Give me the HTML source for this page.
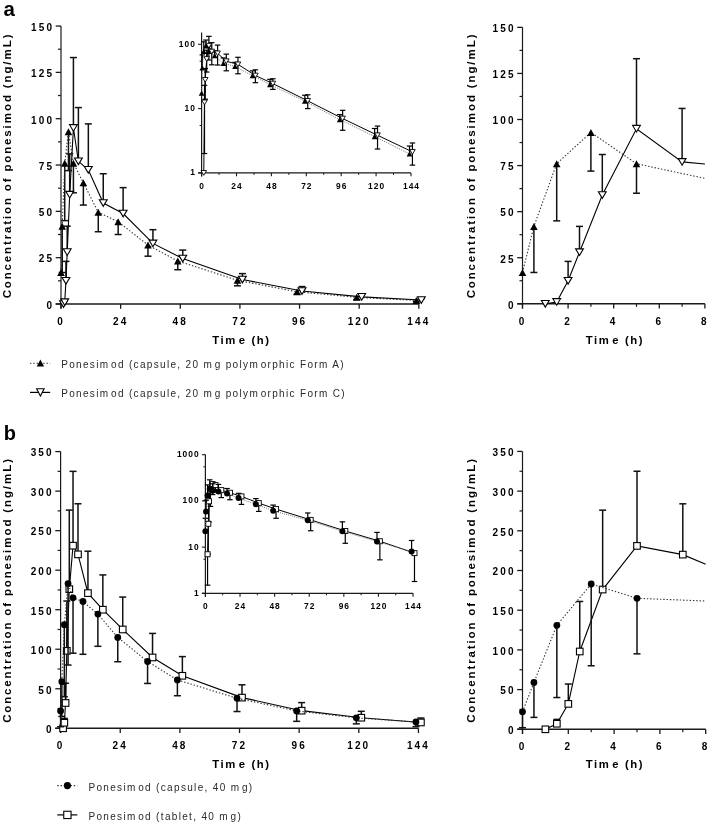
<!DOCTYPE html>
<html><head><meta charset="utf-8"><style>html,body{margin:0;padding:0;background:#fff;}svg{display:block;}</style></head>
<body><svg width="709" height="823" viewBox="0 0 709 823" font-family="'Liberation Sans', Arial, sans-serif">
<rect width="709" height="823" fill="#fff"/>
<text x="3.6" y="15.8" font-size="20.5" text-anchor="start" font-weight="bold" letter-spacing="0" fill="#000" >a</text>
<text x="3.8" y="439.7" font-size="20" text-anchor="start" font-weight="bold" letter-spacing="0" fill="#000" >b</text>
<line x1="61" y1="26.05" x2="61" y2="308.8" stroke="#1a1a1a" stroke-width="1.2" />
<line x1="55.7" y1="304" x2="418.84" y2="304" stroke="#1a1a1a" stroke-width="1.4" />
<line x1="55.7" y1="304" x2="61" y2="304" stroke="#1a1a1a" stroke-width="1.3" />
<text x="54.1" y="308.8" font-size="10" text-anchor="end" font-weight="bold" letter-spacing="2.1" fill="#000" >0</text>
<line x1="55.7" y1="257.68" x2="61" y2="257.68" stroke="#1a1a1a" stroke-width="1.3" />
<text x="54.1" y="262.48" font-size="10" text-anchor="end" font-weight="bold" letter-spacing="2.1" fill="#000" >25</text>
<line x1="55.7" y1="211.35" x2="61" y2="211.35" stroke="#1a1a1a" stroke-width="1.3" />
<text x="54.1" y="216.15" font-size="10" text-anchor="end" font-weight="bold" letter-spacing="2.1" fill="#000" >50</text>
<line x1="55.7" y1="165.03" x2="61" y2="165.03" stroke="#1a1a1a" stroke-width="1.3" />
<text x="54.1" y="169.83" font-size="10" text-anchor="end" font-weight="bold" letter-spacing="2.1" fill="#000" >75</text>
<line x1="55.7" y1="118.7" x2="61" y2="118.7" stroke="#1a1a1a" stroke-width="1.3" />
<text x="54.1" y="123.5" font-size="10" text-anchor="end" font-weight="bold" letter-spacing="2.1" fill="#000" >100</text>
<line x1="55.7" y1="72.38" x2="61" y2="72.38" stroke="#1a1a1a" stroke-width="1.3" />
<text x="54.1" y="77.17" font-size="10" text-anchor="end" font-weight="bold" letter-spacing="2.1" fill="#000" >125</text>
<line x1="55.7" y1="26.05" x2="61" y2="26.05" stroke="#1a1a1a" stroke-width="1.3" />
<text x="54.1" y="30.85" font-size="10" text-anchor="end" font-weight="bold" letter-spacing="2.1" fill="#000" >150</text>
<line x1="58" y1="280.84" x2="61" y2="280.84" stroke="#1a1a1a" stroke-width="1.2" />
<line x1="58" y1="234.51" x2="61" y2="234.51" stroke="#1a1a1a" stroke-width="1.2" />
<line x1="58" y1="188.19" x2="61" y2="188.19" stroke="#1a1a1a" stroke-width="1.2" />
<line x1="58" y1="141.86" x2="61" y2="141.86" stroke="#1a1a1a" stroke-width="1.2" />
<line x1="58" y1="95.54" x2="61" y2="95.54" stroke="#1a1a1a" stroke-width="1.2" />
<line x1="58" y1="49.21" x2="61" y2="49.21" stroke="#1a1a1a" stroke-width="1.2" />
<line x1="61" y1="304" x2="61" y2="308.8" stroke="#1a1a1a" stroke-width="1.3" />
<text x="61" y="325" font-size="10" text-anchor="middle" font-weight="bold" letter-spacing="2.1" fill="#000" >0</text>
<line x1="120.64" y1="304" x2="120.64" y2="308.8" stroke="#1a1a1a" stroke-width="1.3" />
<text x="120.64" y="325" font-size="10" text-anchor="middle" font-weight="bold" letter-spacing="2.1" fill="#000" >24</text>
<line x1="180.28" y1="304" x2="180.28" y2="308.8" stroke="#1a1a1a" stroke-width="1.3" />
<text x="180.28" y="325" font-size="10" text-anchor="middle" font-weight="bold" letter-spacing="2.1" fill="#000" >48</text>
<line x1="239.92" y1="304" x2="239.92" y2="308.8" stroke="#1a1a1a" stroke-width="1.3" />
<text x="239.92" y="325" font-size="10" text-anchor="middle" font-weight="bold" letter-spacing="2.1" fill="#000" >72</text>
<line x1="299.56" y1="304" x2="299.56" y2="308.8" stroke="#1a1a1a" stroke-width="1.3" />
<text x="299.56" y="325" font-size="10" text-anchor="middle" font-weight="bold" letter-spacing="2.1" fill="#000" >96</text>
<line x1="359.2" y1="304" x2="359.2" y2="308.8" stroke="#1a1a1a" stroke-width="1.3" />
<text x="359.2" y="325" font-size="10" text-anchor="middle" font-weight="bold" letter-spacing="2.1" fill="#000" >120</text>
<line x1="418.84" y1="304" x2="418.84" y2="308.8" stroke="#1a1a1a" stroke-width="1.3" />
<text x="418.84" y="325" font-size="10" text-anchor="middle" font-weight="bold" letter-spacing="2.1" fill="#000" >144</text>
<text transform="translate(11.3,165.5) rotate(-90)" x="0" y="0" font-size="11.5" text-anchor="middle" font-weight="bold" letter-spacing="1.86" fill="#000">Concentration of ponesim<tspan dx="0.3">od (ng/m</tspan><tspan dx="0.3">L)</tspan></text>
<text x="241.5" y="344.2" font-size="11.3" text-anchor="middle" font-weight="bold" letter-spacing="1.65" fill="#000" >Tim<tspan dx="1.6">e (h)</tspan></text>
<line x1="62.24" y1="226.17" x2="62.24" y2="272.5" stroke="#111" stroke-width="1.5" />
<line x1="58.74" y1="272.5" x2="65.74" y2="272.5" stroke="#111" stroke-width="1.5" />
<line x1="64.73" y1="163.17" x2="64.73" y2="220.62" stroke="#111" stroke-width="1.5" />
<line x1="61.23" y1="220.62" x2="68.23" y2="220.62" stroke="#111" stroke-width="1.5" />
<line x1="68.45" y1="131.67" x2="68.45" y2="170.58" stroke="#111" stroke-width="1.5" />
<line x1="64.95" y1="170.58" x2="71.95" y2="170.58" stroke="#111" stroke-width="1.5" />
<line x1="73.42" y1="163.17" x2="73.42" y2="192.82" stroke="#111" stroke-width="1.5" />
<line x1="69.92" y1="192.82" x2="76.92" y2="192.82" stroke="#111" stroke-width="1.5" />
<line x1="83.36" y1="182.81" x2="83.36" y2="205.05" stroke="#111" stroke-width="1.5" />
<line x1="79.86" y1="205.05" x2="86.86" y2="205.05" stroke="#111" stroke-width="1.5" />
<line x1="98.28" y1="212.28" x2="98.28" y2="231.73" stroke="#111" stroke-width="1.5" />
<line x1="94.78" y1="231.73" x2="101.78" y2="231.73" stroke="#111" stroke-width="1.5" />
<line x1="118.16" y1="221.73" x2="118.16" y2="234.51" stroke="#111" stroke-width="1.5" />
<line x1="114.66" y1="234.51" x2="121.66" y2="234.51" stroke="#111" stroke-width="1.5" />
<line x1="147.97" y1="245.07" x2="147.97" y2="256.19" stroke="#111" stroke-width="1.5" />
<line x1="144.47" y1="256.19" x2="151.47" y2="256.19" stroke="#111" stroke-width="1.5" />
<line x1="177.79" y1="261.01" x2="177.79" y2="269.72" stroke="#111" stroke-width="1.5" />
<line x1="174.29" y1="269.72" x2="181.29" y2="269.72" stroke="#111" stroke-width="1.5" />
<line x1="237.44" y1="280.28" x2="237.44" y2="285.84" stroke="#111" stroke-width="1.5" />
<line x1="233.94" y1="285.84" x2="240.94" y2="285.84" stroke="#111" stroke-width="1.5" />
<line x1="297.07" y1="291.77" x2="297.07" y2="294.18" stroke="#111" stroke-width="1.5" />
<line x1="293.57" y1="294.18" x2="300.57" y2="294.18" stroke="#111" stroke-width="1.5" />
<line x1="356.71" y1="297.33" x2="356.71" y2="299.55" stroke="#111" stroke-width="1.5" />
<line x1="353.21" y1="299.55" x2="360.21" y2="299.55" stroke="#111" stroke-width="1.5" />
<line x1="416.35" y1="300.42" x2="416.35" y2="301.59" stroke="#111" stroke-width="1.5" />
<line x1="412.85" y1="301.59" x2="419.85" y2="301.59" stroke="#111" stroke-width="1.5" />
<polyline points="61,272.5 62.24,226.17 64.73,163.17 68.45,131.67 73.42,163.17 83.36,182.81 98.28,212.28 118.16,221.73 147.97,245.07 177.79,261.01 237.44,280.28 297.07,291.77 356.71,297.33 416.35,300.42" fill="none" stroke="#333" stroke-width="1.1" stroke-dasharray="1.4,1.9"/>
<polygon points="57.2,276 64.8,276 61,269" fill="#000"/>
<polygon points="58.44,229.67 66.04,229.67 62.24,222.67" fill="#000"/>
<polygon points="60.93,166.67 68.53,166.67 64.73,159.67" fill="#000"/>
<polygon points="64.66,135.17 72.25,135.17 68.45,128.17" fill="#000"/>
<polygon points="69.62,166.67 77.22,166.67 73.42,159.67" fill="#000"/>
<polygon points="79.56,186.31 87.16,186.31 83.36,179.31" fill="#000"/>
<polygon points="94.48,215.78 102.08,215.78 98.28,208.78" fill="#000"/>
<polygon points="114.36,225.23 121.95,225.23 118.16,218.23" fill="#000"/>
<polygon points="144.17,248.57 151.78,248.57 147.97,241.57" fill="#000"/>
<polygon points="173.99,264.51 181.59,264.51 177.79,257.51" fill="#000"/>
<polygon points="233.63,283.78 241.24,283.78 237.44,276.78" fill="#000"/>
<polygon points="293.27,295.27 300.88,295.27 297.07,288.27" fill="#000"/>
<polygon points="352.91,300.83 360.51,300.83 356.71,293.83" fill="#000"/>
<polygon points="412.55,303.92 420.15,303.92 416.35,296.92" fill="#000"/>
<line x1="65.97" y1="280.84" x2="65.97" y2="261.38" stroke="#111" stroke-width="1.5" />
<line x1="62.47" y1="261.38" x2="69.47" y2="261.38" stroke="#111" stroke-width="1.5" />
<line x1="67.21" y1="252.12" x2="67.21" y2="226.17" stroke="#111" stroke-width="1.5" />
<line x1="63.71" y1="226.17" x2="70.71" y2="226.17" stroke="#111" stroke-width="1.5" />
<line x1="69.7" y1="194.67" x2="69.7" y2="153.91" stroke="#111" stroke-width="1.5" />
<line x1="66.2" y1="153.91" x2="73.2" y2="153.91" stroke="#111" stroke-width="1.5" />
<line x1="73.42" y1="127.97" x2="73.42" y2="57.55" stroke="#111" stroke-width="1.5" />
<line x1="69.92" y1="57.55" x2="76.92" y2="57.55" stroke="#111" stroke-width="1.5" />
<line x1="78.39" y1="161.32" x2="78.39" y2="107.58" stroke="#111" stroke-width="1.5" />
<line x1="74.89" y1="107.58" x2="81.89" y2="107.58" stroke="#111" stroke-width="1.5" />
<line x1="88.33" y1="169.84" x2="88.33" y2="123.89" stroke="#111" stroke-width="1.5" />
<line x1="84.83" y1="123.89" x2="91.83" y2="123.89" stroke="#111" stroke-width="1.5" />
<line x1="103.25" y1="203.01" x2="103.25" y2="173.73" stroke="#111" stroke-width="1.5" />
<line x1="99.75" y1="173.73" x2="106.75" y2="173.73" stroke="#111" stroke-width="1.5" />
<line x1="123.12" y1="213.57" x2="123.12" y2="187.63" stroke="#111" stroke-width="1.5" />
<line x1="119.62" y1="187.63" x2="126.62" y2="187.63" stroke="#111" stroke-width="1.5" />
<line x1="152.94" y1="243.41" x2="152.94" y2="229.69" stroke="#111" stroke-width="1.5" />
<line x1="149.44" y1="229.69" x2="156.44" y2="229.69" stroke="#111" stroke-width="1.5" />
<line x1="182.76" y1="258.6" x2="182.76" y2="250.08" stroke="#111" stroke-width="1.5" />
<line x1="179.26" y1="250.08" x2="186.26" y2="250.08" stroke="#111" stroke-width="1.5" />
<line x1="242.41" y1="279.54" x2="242.41" y2="273.61" stroke="#111" stroke-width="1.5" />
<line x1="238.91" y1="273.61" x2="245.91" y2="273.61" stroke="#111" stroke-width="1.5" />
<line x1="302.04" y1="291.03" x2="302.04" y2="286.58" stroke="#111" stroke-width="1.5" />
<line x1="298.54" y1="286.58" x2="305.54" y2="286.58" stroke="#111" stroke-width="1.5" />
<line x1="361.69" y1="296.87" x2="361.69" y2="294.09" stroke="#111" stroke-width="1.5" />
<line x1="358.19" y1="294.09" x2="365.19" y2="294.09" stroke="#111" stroke-width="1.5" />
<line x1="421.32" y1="300.07" x2="421.32" y2="298.59" stroke="#111" stroke-width="1.5" />
<line x1="417.82" y1="298.59" x2="424.82" y2="298.59" stroke="#111" stroke-width="1.5" />
<polyline points="63.48,304 64.73,302.15 65.97,280.84 67.21,252.12 69.7,194.67 73.42,127.97 78.39,161.32 88.33,169.84 103.25,203.01 123.12,213.57 152.94,243.41 182.76,258.6 242.41,279.54 302.04,291.03 361.69,296.87 421.32,300.07" fill="none" stroke="#000" stroke-width="1.1"/>
<polygon points="59.59,300.7 67.39,300.7 63.48,307.3" fill="#fff" stroke="#000" stroke-width="1.1"/>
<polygon points="60.83,298.85 68.63,298.85 64.73,305.45" fill="#fff" stroke="#000" stroke-width="1.1"/>
<polygon points="62.07,277.54 69.87,277.54 65.97,284.14" fill="#fff" stroke="#000" stroke-width="1.1"/>
<polygon points="63.31,248.82 71.11,248.82 67.21,255.42" fill="#fff" stroke="#000" stroke-width="1.1"/>
<polygon points="65.8,191.37 73.6,191.37 69.7,197.97" fill="#fff" stroke="#000" stroke-width="1.1"/>
<polygon points="69.52,124.67 77.33,124.67 73.42,131.27" fill="#fff" stroke="#000" stroke-width="1.1"/>
<polygon points="74.49,158.02 82.3,158.02 78.39,164.62" fill="#fff" stroke="#000" stroke-width="1.1"/>
<polygon points="84.43,166.54 92.23,166.54 88.33,173.14" fill="#fff" stroke="#000" stroke-width="1.1"/>
<polygon points="99.34,199.71 107.15,199.71 103.25,206.31" fill="#fff" stroke="#000" stroke-width="1.1"/>
<polygon points="119.22,210.27 127.03,210.27 123.12,216.87" fill="#fff" stroke="#000" stroke-width="1.1"/>
<polygon points="149.04,240.11 156.84,240.11 152.94,246.71" fill="#fff" stroke="#000" stroke-width="1.1"/>
<polygon points="178.86,255.3 186.66,255.3 182.76,261.9" fill="#fff" stroke="#000" stroke-width="1.1"/>
<polygon points="238.5,276.24 246.31,276.24 242.41,282.84" fill="#fff" stroke="#000" stroke-width="1.1"/>
<polygon points="298.14,287.73 305.94,287.73 302.04,294.33" fill="#fff" stroke="#000" stroke-width="1.1"/>
<polygon points="357.79,293.57 365.58,293.57 361.69,300.17" fill="#fff" stroke="#000" stroke-width="1.1"/>
<polygon points="417.43,296.77 425.22,296.77 421.32,303.37" fill="#fff" stroke="#000" stroke-width="1.1"/>
<line x1="522.5" y1="27.35" x2="522.5" y2="308.6" stroke="#1a1a1a" stroke-width="1.2" />
<line x1="517.2" y1="303.8" x2="704.9" y2="303.8" stroke="#1a1a1a" stroke-width="1.4" />
<line x1="517.2" y1="303.8" x2="522.5" y2="303.8" stroke="#1a1a1a" stroke-width="1.3" />
<text x="515.6" y="308.6" font-size="10" text-anchor="end" font-weight="bold" letter-spacing="2.1" fill="#000" >0</text>
<line x1="517.2" y1="257.73" x2="522.5" y2="257.73" stroke="#1a1a1a" stroke-width="1.3" />
<text x="515.6" y="262.53" font-size="10" text-anchor="end" font-weight="bold" letter-spacing="2.1" fill="#000" >25</text>
<line x1="517.2" y1="211.65" x2="522.5" y2="211.65" stroke="#1a1a1a" stroke-width="1.3" />
<text x="515.6" y="216.45" font-size="10" text-anchor="end" font-weight="bold" letter-spacing="2.1" fill="#000" >50</text>
<line x1="517.2" y1="165.58" x2="522.5" y2="165.58" stroke="#1a1a1a" stroke-width="1.3" />
<text x="515.6" y="170.38" font-size="10" text-anchor="end" font-weight="bold" letter-spacing="2.1" fill="#000" >75</text>
<line x1="517.2" y1="119.5" x2="522.5" y2="119.5" stroke="#1a1a1a" stroke-width="1.3" />
<text x="515.6" y="124.3" font-size="10" text-anchor="end" font-weight="bold" letter-spacing="2.1" fill="#000" >100</text>
<line x1="517.2" y1="73.43" x2="522.5" y2="73.43" stroke="#1a1a1a" stroke-width="1.3" />
<text x="515.6" y="78.23" font-size="10" text-anchor="end" font-weight="bold" letter-spacing="2.1" fill="#000" >125</text>
<line x1="517.2" y1="27.35" x2="522.5" y2="27.35" stroke="#1a1a1a" stroke-width="1.3" />
<text x="515.6" y="32.15" font-size="10" text-anchor="end" font-weight="bold" letter-spacing="2.1" fill="#000" >150</text>
<line x1="519.5" y1="280.76" x2="522.5" y2="280.76" stroke="#1a1a1a" stroke-width="1.2" />
<line x1="519.5" y1="234.69" x2="522.5" y2="234.69" stroke="#1a1a1a" stroke-width="1.2" />
<line x1="519.5" y1="188.61" x2="522.5" y2="188.61" stroke="#1a1a1a" stroke-width="1.2" />
<line x1="519.5" y1="142.54" x2="522.5" y2="142.54" stroke="#1a1a1a" stroke-width="1.2" />
<line x1="519.5" y1="96.46" x2="522.5" y2="96.46" stroke="#1a1a1a" stroke-width="1.2" />
<line x1="519.5" y1="50.39" x2="522.5" y2="50.39" stroke="#1a1a1a" stroke-width="1.2" />
<line x1="522.5" y1="303.8" x2="522.5" y2="308.6" stroke="#1a1a1a" stroke-width="1.3" />
<text x="522.5" y="324.8" font-size="10" text-anchor="middle" font-weight="bold" letter-spacing="2.1" fill="#000" >0</text>
<line x1="568.1" y1="303.8" x2="568.1" y2="308.6" stroke="#1a1a1a" stroke-width="1.3" />
<text x="568.1" y="324.8" font-size="10" text-anchor="middle" font-weight="bold" letter-spacing="2.1" fill="#000" >2</text>
<line x1="613.7" y1="303.8" x2="613.7" y2="308.6" stroke="#1a1a1a" stroke-width="1.3" />
<text x="613.7" y="324.8" font-size="10" text-anchor="middle" font-weight="bold" letter-spacing="2.1" fill="#000" >4</text>
<line x1="659.3" y1="303.8" x2="659.3" y2="308.6" stroke="#1a1a1a" stroke-width="1.3" />
<text x="659.3" y="324.8" font-size="10" text-anchor="middle" font-weight="bold" letter-spacing="2.1" fill="#000" >6</text>
<line x1="704.9" y1="303.8" x2="704.9" y2="308.6" stroke="#1a1a1a" stroke-width="1.3" />
<text x="704.9" y="324.8" font-size="10" text-anchor="middle" font-weight="bold" letter-spacing="2.1" fill="#000" >8</text>
<line x1="545.3" y1="303.8" x2="545.3" y2="306.8" stroke="#1a1a1a" stroke-width="1.2" />
<line x1="590.9" y1="303.8" x2="590.9" y2="306.8" stroke="#1a1a1a" stroke-width="1.2" />
<line x1="636.5" y1="303.8" x2="636.5" y2="306.8" stroke="#1a1a1a" stroke-width="1.2" />
<line x1="682.1" y1="303.8" x2="682.1" y2="306.8" stroke="#1a1a1a" stroke-width="1.2" />
<text transform="translate(475.3,165.5) rotate(-90)" x="0" y="0" font-size="11.5" text-anchor="middle" font-weight="bold" letter-spacing="1.86" fill="#000">Concentration of ponesim<tspan dx="0.3">od (ng/m</tspan><tspan dx="0.3">L)</tspan></text>
<text x="615" y="344.2" font-size="11.3" text-anchor="middle" font-weight="bold" letter-spacing="1.65" fill="#000" >Tim<tspan dx="1.6">e (h)</tspan></text>
<line x1="533.9" y1="226.39" x2="533.9" y2="272.47" stroke="#111" stroke-width="1.5" />
<line x1="530.4" y1="272.47" x2="537.4" y2="272.47" stroke="#111" stroke-width="1.5" />
<line x1="556.7" y1="163.73" x2="556.7" y2="220.87" stroke="#111" stroke-width="1.5" />
<line x1="553.2" y1="220.87" x2="560.2" y2="220.87" stroke="#111" stroke-width="1.5" />
<line x1="590.9" y1="132.4" x2="590.9" y2="171.1" stroke="#111" stroke-width="1.5" />
<line x1="587.4" y1="171.1" x2="594.4" y2="171.1" stroke="#111" stroke-width="1.5" />
<line x1="636.5" y1="163.73" x2="636.5" y2="193.22" stroke="#111" stroke-width="1.5" />
<line x1="633" y1="193.22" x2="640" y2="193.22" stroke="#111" stroke-width="1.5" />
<polyline points="522.5,272.47 533.9,226.39 556.7,163.73 590.9,132.4 636.5,163.73 704.9,178.38" fill="none" stroke="#333" stroke-width="1.1" stroke-dasharray="1.4,1.9"/>
<polygon points="518.7,275.97 526.3,275.97 522.5,268.97" fill="#000"/>
<polygon points="530.1,229.89 537.7,229.89 533.9,222.89" fill="#000"/>
<polygon points="552.9,167.23 560.5,167.23 556.7,160.23" fill="#000"/>
<polygon points="587.1,135.9 594.7,135.9 590.9,128.9" fill="#000"/>
<polygon points="632.7,167.23 640.3,167.23 636.5,160.23" fill="#000"/>
<line x1="568.1" y1="280.76" x2="568.1" y2="261.41" stroke="#111" stroke-width="1.5" />
<line x1="564.6" y1="261.41" x2="571.6" y2="261.41" stroke="#111" stroke-width="1.5" />
<line x1="579.5" y1="252.2" x2="579.5" y2="226.39" stroke="#111" stroke-width="1.5" />
<line x1="576" y1="226.39" x2="583" y2="226.39" stroke="#111" stroke-width="1.5" />
<line x1="602.3" y1="195.06" x2="602.3" y2="154.52" stroke="#111" stroke-width="1.5" />
<line x1="598.8" y1="154.52" x2="605.8" y2="154.52" stroke="#111" stroke-width="1.5" />
<line x1="636.5" y1="128.72" x2="636.5" y2="58.68" stroke="#111" stroke-width="1.5" />
<line x1="633" y1="58.68" x2="640" y2="58.68" stroke="#111" stroke-width="1.5" />
<line x1="682.1" y1="161.89" x2="682.1" y2="108.44" stroke="#111" stroke-width="1.5" />
<line x1="678.6" y1="108.44" x2="685.6" y2="108.44" stroke="#111" stroke-width="1.5" />
<polyline points="545.3,303.8 556.7,301.96 568.1,280.76 579.5,252.2 602.3,195.06 636.5,128.72 682.1,161.89 704.9,164.01" fill="none" stroke="#000" stroke-width="1.1"/>
<polygon points="541.4,300.5 549.2,300.5 545.3,307.1" fill="#fff" stroke="#000" stroke-width="1.1"/>
<polygon points="552.8,298.66 560.6,298.66 556.7,305.26" fill="#fff" stroke="#000" stroke-width="1.1"/>
<polygon points="564.2,277.46 572,277.46 568.1,284.06" fill="#fff" stroke="#000" stroke-width="1.1"/>
<polygon points="575.6,248.9 583.4,248.9 579.5,255.5" fill="#fff" stroke="#000" stroke-width="1.1"/>
<polygon points="598.4,191.76 606.2,191.76 602.3,198.36" fill="#fff" stroke="#000" stroke-width="1.1"/>
<polygon points="632.6,125.42 640.4,125.42 636.5,132.02" fill="#fff" stroke="#000" stroke-width="1.1"/>
<polygon points="678.2,158.59 686,158.59 682.1,165.19" fill="#fff" stroke="#000" stroke-width="1.1"/>
<line x1="201.6" y1="32.5" x2="201.6" y2="176.4" stroke="#1a1a1a" stroke-width="1.2" />
<line x1="198.1" y1="172.9" x2="410.98" y2="172.9" stroke="#1a1a1a" stroke-width="1.2" />
<line x1="198.1" y1="172.9" x2="201.6" y2="172.9" stroke="#1a1a1a" stroke-width="1.1" />
<text x="195.8" y="175.3" font-size="8.4" text-anchor="end" font-weight="bold" letter-spacing="1.0" fill="#000" >1</text>
<line x1="198.1" y1="108.6" x2="201.6" y2="108.6" stroke="#1a1a1a" stroke-width="1.1" />
<text x="195.8" y="111" font-size="8.4" text-anchor="end" font-weight="bold" letter-spacing="1.0" fill="#000" >10</text>
<line x1="198.1" y1="44.3" x2="201.6" y2="44.3" stroke="#1a1a1a" stroke-width="1.1" />
<text x="195.8" y="46.7" font-size="8.4" text-anchor="end" font-weight="bold" letter-spacing="1.0" fill="#000" >100</text>
<line x1="199.6" y1="125.5" x2="201.6" y2="125.5" stroke="#1a1a1a" stroke-width="1.0" />
<line x1="199.6" y1="61.2" x2="201.6" y2="61.2" stroke="#1a1a1a" stroke-width="1.0" />
<line x1="201.6" y1="172.9" x2="201.6" y2="176.3" stroke="#1a1a1a" stroke-width="1.1" />
<text x="202.1" y="188.7" font-size="8.4" text-anchor="middle" font-weight="bold" letter-spacing="1.0" fill="#000" >0</text>
<line x1="236.5" y1="172.9" x2="236.5" y2="176.3" stroke="#1a1a1a" stroke-width="1.1" />
<text x="237" y="188.7" font-size="8.4" text-anchor="middle" font-weight="bold" letter-spacing="1.0" fill="#000" >24</text>
<line x1="271.39" y1="172.9" x2="271.39" y2="176.3" stroke="#1a1a1a" stroke-width="1.1" />
<text x="271.89" y="188.7" font-size="8.4" text-anchor="middle" font-weight="bold" letter-spacing="1.0" fill="#000" >48</text>
<line x1="306.29" y1="172.9" x2="306.29" y2="176.3" stroke="#1a1a1a" stroke-width="1.1" />
<text x="306.79" y="188.7" font-size="8.4" text-anchor="middle" font-weight="bold" letter-spacing="1.0" fill="#000" >72</text>
<line x1="341.18" y1="172.9" x2="341.18" y2="176.3" stroke="#1a1a1a" stroke-width="1.1" />
<text x="341.68" y="188.7" font-size="8.4" text-anchor="middle" font-weight="bold" letter-spacing="1.0" fill="#000" >96</text>
<line x1="376.08" y1="172.9" x2="376.08" y2="176.3" stroke="#1a1a1a" stroke-width="1.1" />
<text x="376.58" y="188.7" font-size="8.4" text-anchor="middle" font-weight="bold" letter-spacing="1.0" fill="#000" >120</text>
<line x1="410.98" y1="172.9" x2="410.98" y2="176.3" stroke="#1a1a1a" stroke-width="1.1" />
<text x="411.48" y="188.7" font-size="8.4" text-anchor="middle" font-weight="bold" letter-spacing="1.0" fill="#000" >144</text>
<line x1="219.05" y1="172.9" x2="219.05" y2="174.9" stroke="#1a1a1a" stroke-width="1.0" />
<line x1="253.94" y1="172.9" x2="253.94" y2="174.9" stroke="#1a1a1a" stroke-width="1.0" />
<line x1="288.84" y1="172.9" x2="288.84" y2="174.9" stroke="#1a1a1a" stroke-width="1.0" />
<line x1="323.74" y1="172.9" x2="323.74" y2="174.9" stroke="#1a1a1a" stroke-width="1.0" />
<line x1="358.63" y1="172.9" x2="358.63" y2="174.9" stroke="#1a1a1a" stroke-width="1.0" />
<line x1="393.53" y1="172.9" x2="393.53" y2="174.9" stroke="#1a1a1a" stroke-width="1.0" />
<line x1="202.33" y1="67.93" x2="202.33" y2="54.88" stroke="#000" stroke-width="1.2" />
<line x1="199.58" y1="54.88" x2="205.08" y2="54.88" stroke="#000" stroke-width="1.2" />
<line x1="203.78" y1="51.36" x2="203.78" y2="41.81" stroke="#000" stroke-width="1.2" />
<line x1="201.03" y1="41.81" x2="206.53" y2="41.81" stroke="#000" stroke-width="1.2" />
<line x1="205.96" y1="45.73" x2="205.96" y2="40.04" stroke="#000" stroke-width="1.2" />
<line x1="203.21" y1="40.04" x2="208.71" y2="40.04" stroke="#000" stroke-width="1.2" />
<line x1="208.87" y1="51.36" x2="208.87" y2="46.03" stroke="#000" stroke-width="1.2" />
<line x1="206.12" y1="46.03" x2="211.62" y2="46.03" stroke="#000" stroke-width="1.2" />
<line x1="214.69" y1="55.56" x2="214.69" y2="50.85" stroke="#000" stroke-width="1.2" />
<line x1="211.94" y1="50.85" x2="217.44" y2="50.85" stroke="#000" stroke-width="1.2" />
<line x1="223.41" y1="63.34" x2="223.41" y2="57.96" stroke="#000" stroke-width="1.2" />
<line x1="220.66" y1="57.96" x2="226.16" y2="57.96" stroke="#000" stroke-width="1.2" />
<line x1="235.04" y1="66.37" x2="235.04" y2="62.34" stroke="#000" stroke-width="1.2" />
<line x1="232.29" y1="62.34" x2="237.79" y2="62.34" stroke="#000" stroke-width="1.2" />
<line x1="252.49" y1="75.69" x2="252.49" y2="70.87" stroke="#000" stroke-width="1.2" />
<line x1="249.74" y1="70.87" x2="255.24" y2="70.87" stroke="#000" stroke-width="1.2" />
<line x1="269.94" y1="84.5" x2="269.94" y2="79.35" stroke="#000" stroke-width="1.2" />
<line x1="267.19" y1="79.35" x2="272.69" y2="79.35" stroke="#000" stroke-width="1.2" />
<line x1="304.83" y1="101.11" x2="304.83" y2="95.23" stroke="#000" stroke-width="1.2" />
<line x1="302.08" y1="95.23" x2="307.58" y2="95.23" stroke="#000" stroke-width="1.2" />
<line x1="339.73" y1="119.6" x2="339.73" y2="114.58" stroke="#000" stroke-width="1.2" />
<line x1="336.98" y1="114.58" x2="342.48" y2="114.58" stroke="#000" stroke-width="1.2" />
<line x1="374.63" y1="136.53" x2="374.63" y2="128.5" stroke="#000" stroke-width="1.2" />
<line x1="371.88" y1="128.5" x2="377.38" y2="128.5" stroke="#000" stroke-width="1.2" />
<line x1="409.52" y1="153.94" x2="409.52" y2="146.05" stroke="#000" stroke-width="1.2" />
<line x1="406.77" y1="146.05" x2="412.27" y2="146.05" stroke="#000" stroke-width="1.2" />
<polyline points="201.6,93.18 202.33,67.93 203.78,51.36 205.96,45.73 208.87,51.36 214.69,55.56 223.41,63.34 235.04,66.37 252.49,75.69 269.94,84.5 304.83,101.11 339.73,119.6 374.63,136.53 409.52,153.94" fill="none" stroke="#666" stroke-width="0.9" stroke-dasharray="1,1.1"/>
<polygon points="198.71,95.84 204.49,95.84 201.6,90.52" fill="#000"/>
<polygon points="199.44,70.59 205.22,70.59 202.33,65.27" fill="#000"/>
<polygon points="200.89,54.02 206.67,54.02 203.78,48.7" fill="#000"/>
<polygon points="203.07,48.39 208.85,48.39 205.96,43.07" fill="#000"/>
<polygon points="205.98,54.02 211.76,54.02 208.87,48.7" fill="#000"/>
<polygon points="211.8,58.22 217.57,58.22 214.69,52.9" fill="#000"/>
<polygon points="220.52,66 226.3,66 223.41,60.68" fill="#000"/>
<polygon points="232.15,69.03 237.93,69.03 235.04,63.71" fill="#000"/>
<polygon points="249.6,78.35 255.38,78.35 252.49,73.03" fill="#000"/>
<polygon points="267.05,87.16 272.83,87.16 269.94,81.84" fill="#000"/>
<polygon points="301.95,103.77 307.72,103.77 304.83,98.45" fill="#000"/>
<polygon points="336.84,122.26 342.62,122.26 339.73,116.94" fill="#000"/>
<polygon points="371.74,139.19 377.51,139.19 374.63,133.87" fill="#000"/>
<polygon points="406.63,156.6 412.41,156.6 409.52,151.28" fill="#000"/>
<line x1="204.51" y1="102.37" x2="204.51" y2="85.34" stroke="#000" stroke-width="1.2" />
<line x1="201.76" y1="85.34" x2="207.26" y2="85.34" stroke="#000" stroke-width="1.2" />
<line x1="204.51" y1="102.37" x2="204.51" y2="153.54" stroke="#000" stroke-width="1.2" />
<line x1="201.76" y1="153.54" x2="207.26" y2="153.54" stroke="#000" stroke-width="1.2" />
<line x1="205.23" y1="79.85" x2="205.23" y2="68.53" stroke="#000" stroke-width="1.2" />
<line x1="202.48" y1="68.53" x2="207.98" y2="68.53" stroke="#000" stroke-width="1.2" />
<line x1="205.23" y1="79.85" x2="205.23" y2="99.2" stroke="#000" stroke-width="1.2" />
<line x1="202.48" y1="99.2" x2="207.98" y2="99.2" stroke="#000" stroke-width="1.2" />
<line x1="206.69" y1="59.03" x2="206.69" y2="50.18" stroke="#000" stroke-width="1.2" />
<line x1="203.94" y1="50.18" x2="209.44" y2="50.18" stroke="#000" stroke-width="1.2" />
<line x1="206.69" y1="59.03" x2="206.69" y2="72.06" stroke="#000" stroke-width="1.2" />
<line x1="203.94" y1="72.06" x2="209.44" y2="72.06" stroke="#000" stroke-width="1.2" />
<line x1="208.87" y1="45.73" x2="208.87" y2="36.34" stroke="#000" stroke-width="1.2" />
<line x1="206.12" y1="36.34" x2="211.62" y2="36.34" stroke="#000" stroke-width="1.2" />
<line x1="208.87" y1="45.73" x2="208.87" y2="60" stroke="#000" stroke-width="1.2" />
<line x1="206.12" y1="60" x2="211.62" y2="60" stroke="#000" stroke-width="1.2" />
<line x1="211.78" y1="51.6" x2="211.78" y2="42.67" stroke="#000" stroke-width="1.2" />
<line x1="209.03" y1="42.67" x2="214.53" y2="42.67" stroke="#000" stroke-width="1.2" />
<line x1="211.78" y1="51.6" x2="211.78" y2="64.8" stroke="#000" stroke-width="1.2" />
<line x1="209.03" y1="64.8" x2="214.53" y2="64.8" stroke="#000" stroke-width="1.2" />
<line x1="217.59" y1="53.32" x2="217.59" y2="45.09" stroke="#000" stroke-width="1.2" />
<line x1="214.84" y1="45.09" x2="220.34" y2="45.09" stroke="#000" stroke-width="1.2" />
<line x1="217.59" y1="53.32" x2="217.59" y2="65.03" stroke="#000" stroke-width="1.2" />
<line x1="214.84" y1="65.03" x2="220.34" y2="65.03" stroke="#000" stroke-width="1.2" />
<line x1="226.32" y1="61.25" x2="226.32" y2="54.14" stroke="#000" stroke-width="1.2" />
<line x1="223.57" y1="54.14" x2="229.07" y2="54.14" stroke="#000" stroke-width="1.2" />
<line x1="226.32" y1="61.25" x2="226.32" y2="70.81" stroke="#000" stroke-width="1.2" />
<line x1="223.57" y1="70.81" x2="229.07" y2="70.81" stroke="#000" stroke-width="1.2" />
<line x1="237.95" y1="64.33" x2="237.95" y2="57.29" stroke="#000" stroke-width="1.2" />
<line x1="235.2" y1="57.29" x2="240.7" y2="57.29" stroke="#000" stroke-width="1.2" />
<line x1="237.95" y1="64.33" x2="237.95" y2="73.78" stroke="#000" stroke-width="1.2" />
<line x1="235.2" y1="73.78" x2="240.7" y2="73.78" stroke="#000" stroke-width="1.2" />
<line x1="255.4" y1="75.51" x2="255.4" y2="69.82" stroke="#000" stroke-width="1.2" />
<line x1="252.65" y1="69.82" x2="258.15" y2="69.82" stroke="#000" stroke-width="1.2" />
<line x1="255.4" y1="75.51" x2="255.4" y2="82.68" stroke="#000" stroke-width="1.2" />
<line x1="252.65" y1="82.68" x2="258.15" y2="82.68" stroke="#000" stroke-width="1.2" />
<line x1="272.85" y1="83.58" x2="272.85" y2="78.77" stroke="#000" stroke-width="1.2" />
<line x1="270.1" y1="78.77" x2="275.6" y2="78.77" stroke="#000" stroke-width="1.2" />
<line x1="272.85" y1="83.58" x2="272.85" y2="89.38" stroke="#000" stroke-width="1.2" />
<line x1="270.1" y1="89.38" x2="275.6" y2="89.38" stroke="#000" stroke-width="1.2" />
<line x1="307.74" y1="100.85" x2="307.74" y2="94.79" stroke="#000" stroke-width="1.2" />
<line x1="304.99" y1="94.79" x2="310.49" y2="94.79" stroke="#000" stroke-width="1.2" />
<line x1="307.74" y1="100.85" x2="307.74" y2="108.6" stroke="#000" stroke-width="1.2" />
<line x1="304.99" y1="108.6" x2="310.49" y2="108.6" stroke="#000" stroke-width="1.2" />
<line x1="342.64" y1="118.56" x2="342.64" y2="110.33" stroke="#000" stroke-width="1.2" />
<line x1="339.89" y1="110.33" x2="345.39" y2="110.33" stroke="#000" stroke-width="1.2" />
<line x1="342.64" y1="118.56" x2="342.64" y2="130.28" stroke="#000" stroke-width="1.2" />
<line x1="339.89" y1="130.28" x2="345.39" y2="130.28" stroke="#000" stroke-width="1.2" />
<line x1="377.53" y1="135.25" x2="377.53" y2="126.07" stroke="#000" stroke-width="1.2" />
<line x1="374.78" y1="126.07" x2="380.28" y2="126.07" stroke="#000" stroke-width="1.2" />
<line x1="377.53" y1="135.25" x2="377.53" y2="149.04" stroke="#000" stroke-width="1.2" />
<line x1="374.78" y1="149.04" x2="380.28" y2="149.04" stroke="#000" stroke-width="1.2" />
<line x1="412.43" y1="151.92" x2="412.43" y2="142.98" stroke="#000" stroke-width="1.2" />
<line x1="409.68" y1="142.98" x2="415.18" y2="142.98" stroke="#000" stroke-width="1.2" />
<line x1="412.43" y1="151.92" x2="412.43" y2="165.15" stroke="#000" stroke-width="1.2" />
<line x1="409.68" y1="165.15" x2="415.18" y2="165.15" stroke="#000" stroke-width="1.2" />
<polyline points="203.78,172.9 204.51,102.37 205.23,79.85 206.69,59.03 208.87,45.73 211.78,51.6 217.59,53.32 226.32,61.25 237.95,64.33 255.4,75.51 272.85,83.58 307.74,100.85 342.64,118.56 377.53,135.25 412.43,151.92" fill="none" stroke="#000" stroke-width="1.0"/>
<polygon points="200.97,170.52 206.59,170.52 203.78,175.28" fill="#fff" stroke="#000" stroke-width="0.9"/>
<polygon points="201.7,99.99 207.32,99.99 204.51,104.74" fill="#fff" stroke="#000" stroke-width="0.9"/>
<polygon points="202.43,77.47 208.04,77.47 205.23,82.22" fill="#fff" stroke="#000" stroke-width="0.9"/>
<polygon points="203.88,56.66 209.5,56.66 206.69,61.41" fill="#fff" stroke="#000" stroke-width="0.9"/>
<polygon points="206.06,43.36 211.68,43.36 208.87,48.11" fill="#fff" stroke="#000" stroke-width="0.9"/>
<polygon points="208.97,49.22 214.59,49.22 211.78,53.97" fill="#fff" stroke="#000" stroke-width="0.9"/>
<polygon points="214.79,50.94 220.4,50.94 217.59,55.69" fill="#fff" stroke="#000" stroke-width="0.9"/>
<polygon points="223.51,58.87 229.13,58.87 226.32,63.63" fill="#fff" stroke="#000" stroke-width="0.9"/>
<polygon points="235.14,61.96 240.76,61.96 237.95,66.71" fill="#fff" stroke="#000" stroke-width="0.9"/>
<polygon points="252.59,73.14 258.21,73.14 255.4,77.89" fill="#fff" stroke="#000" stroke-width="0.9"/>
<polygon points="270.04,81.2 275.65,81.2 272.85,85.95" fill="#fff" stroke="#000" stroke-width="0.9"/>
<polygon points="304.93,98.47 310.55,98.47 307.74,103.22" fill="#fff" stroke="#000" stroke-width="0.9"/>
<polygon points="339.83,116.18 345.45,116.18 342.64,120.94" fill="#fff" stroke="#000" stroke-width="0.9"/>
<polygon points="374.73,132.88 380.34,132.88 377.53,137.63" fill="#fff" stroke="#000" stroke-width="0.9"/>
<polygon points="409.62,149.54 415.24,149.54 412.43,154.29" fill="#fff" stroke="#000" stroke-width="0.9"/>
<line x1="30" y1="363.2" x2="50.2" y2="363.2" stroke="#333" stroke-width="1.1" stroke-dasharray="1.4,1.9"/>
<polygon points="36.7,366.6 44.1,366.6 40.4,359.6" fill="#000"/>
<line x1="30" y1="392.4" x2="50.2" y2="392.4" stroke="#000" stroke-width="1.2" />
<polygon points="36.65,388.8 44.15,388.8 40.4,396" fill="#fff" stroke="#000" stroke-width="1.1"/>
<text x="61.2" y="368.1" font-size="10" text-anchor="start" font-weight="normal" letter-spacing="1.33" fill="#2a2a2a" >Ponesim<tspan dx="1.6">od (capsule, 20 m</tspan><tspan dx="1.6">g polym</tspan><tspan dx="1.6">orphic Form</tspan> A)</text>
<text x="61.2" y="397.1" font-size="10" text-anchor="start" font-weight="normal" letter-spacing="1.33" fill="#2a2a2a" >Ponesim<tspan dx="1.6">od (capsule, 20 m</tspan><tspan dx="1.6">g polym</tspan><tspan dx="1.6">orphic Form</tspan> C)</text>
<line x1="60.6" y1="451.59" x2="60.6" y2="733.1" stroke="#1a1a1a" stroke-width="1.2" />
<line x1="55.3" y1="728.3" x2="418.44" y2="728.3" stroke="#1a1a1a" stroke-width="1.4" />
<line x1="55.3" y1="728.3" x2="60.6" y2="728.3" stroke="#1a1a1a" stroke-width="1.3" />
<text x="53.7" y="733.1" font-size="10" text-anchor="end" font-weight="bold" letter-spacing="2.1" fill="#000" >0</text>
<line x1="55.3" y1="688.77" x2="60.6" y2="688.77" stroke="#1a1a1a" stroke-width="1.3" />
<text x="53.7" y="693.57" font-size="10" text-anchor="end" font-weight="bold" letter-spacing="2.1" fill="#000" >50</text>
<line x1="55.3" y1="649.24" x2="60.6" y2="649.24" stroke="#1a1a1a" stroke-width="1.3" />
<text x="53.7" y="654.04" font-size="10" text-anchor="end" font-weight="bold" letter-spacing="2.1" fill="#000" >100</text>
<line x1="55.3" y1="609.71" x2="60.6" y2="609.71" stroke="#1a1a1a" stroke-width="1.3" />
<text x="53.7" y="614.51" font-size="10" text-anchor="end" font-weight="bold" letter-spacing="2.1" fill="#000" >150</text>
<line x1="55.3" y1="570.18" x2="60.6" y2="570.18" stroke="#1a1a1a" stroke-width="1.3" />
<text x="53.7" y="574.98" font-size="10" text-anchor="end" font-weight="bold" letter-spacing="2.1" fill="#000" >200</text>
<line x1="55.3" y1="530.65" x2="60.6" y2="530.65" stroke="#1a1a1a" stroke-width="1.3" />
<text x="53.7" y="535.45" font-size="10" text-anchor="end" font-weight="bold" letter-spacing="2.1" fill="#000" >250</text>
<line x1="55.3" y1="491.12" x2="60.6" y2="491.12" stroke="#1a1a1a" stroke-width="1.3" />
<text x="53.7" y="495.92" font-size="10" text-anchor="end" font-weight="bold" letter-spacing="2.1" fill="#000" >300</text>
<line x1="55.3" y1="451.59" x2="60.6" y2="451.59" stroke="#1a1a1a" stroke-width="1.3" />
<text x="53.7" y="456.39" font-size="10" text-anchor="end" font-weight="bold" letter-spacing="2.1" fill="#000" >350</text>
<line x1="57.6" y1="708.53" x2="60.6" y2="708.53" stroke="#1a1a1a" stroke-width="1.2" />
<line x1="57.6" y1="669" x2="60.6" y2="669" stroke="#1a1a1a" stroke-width="1.2" />
<line x1="57.6" y1="629.47" x2="60.6" y2="629.47" stroke="#1a1a1a" stroke-width="1.2" />
<line x1="57.6" y1="589.94" x2="60.6" y2="589.94" stroke="#1a1a1a" stroke-width="1.2" />
<line x1="57.6" y1="550.41" x2="60.6" y2="550.41" stroke="#1a1a1a" stroke-width="1.2" />
<line x1="57.6" y1="510.88" x2="60.6" y2="510.88" stroke="#1a1a1a" stroke-width="1.2" />
<line x1="57.6" y1="471.35" x2="60.6" y2="471.35" stroke="#1a1a1a" stroke-width="1.2" />
<line x1="60.6" y1="728.3" x2="60.6" y2="733.1" stroke="#1a1a1a" stroke-width="1.3" />
<text x="60.6" y="749.3" font-size="10" text-anchor="middle" font-weight="bold" letter-spacing="2.1" fill="#000" >0</text>
<line x1="120.24" y1="728.3" x2="120.24" y2="733.1" stroke="#1a1a1a" stroke-width="1.3" />
<text x="120.24" y="749.3" font-size="10" text-anchor="middle" font-weight="bold" letter-spacing="2.1" fill="#000" >24</text>
<line x1="179.88" y1="728.3" x2="179.88" y2="733.1" stroke="#1a1a1a" stroke-width="1.3" />
<text x="179.88" y="749.3" font-size="10" text-anchor="middle" font-weight="bold" letter-spacing="2.1" fill="#000" >48</text>
<line x1="239.52" y1="728.3" x2="239.52" y2="733.1" stroke="#1a1a1a" stroke-width="1.3" />
<text x="239.52" y="749.3" font-size="10" text-anchor="middle" font-weight="bold" letter-spacing="2.1" fill="#000" >72</text>
<line x1="299.16" y1="728.3" x2="299.16" y2="733.1" stroke="#1a1a1a" stroke-width="1.3" />
<text x="299.16" y="749.3" font-size="10" text-anchor="middle" font-weight="bold" letter-spacing="2.1" fill="#000" >96</text>
<line x1="358.8" y1="728.3" x2="358.8" y2="733.1" stroke="#1a1a1a" stroke-width="1.3" />
<text x="358.8" y="749.3" font-size="10" text-anchor="middle" font-weight="bold" letter-spacing="2.1" fill="#000" >120</text>
<line x1="418.44" y1="728.3" x2="418.44" y2="733.1" stroke="#1a1a1a" stroke-width="1.3" />
<text x="418.44" y="749.3" font-size="10" text-anchor="middle" font-weight="bold" letter-spacing="2.1" fill="#000" >144</text>
<text transform="translate(11.3,590) rotate(-90)" x="0" y="0" font-size="11.5" text-anchor="middle" font-weight="bold" letter-spacing="1.86" fill="#000">Concentration of ponesim<tspan dx="0.3">od (ng/m</tspan><tspan dx="0.3">L)</tspan></text>
<text x="241.5" y="767.9" font-size="11.3" text-anchor="middle" font-weight="bold" letter-spacing="1.65" fill="#000" >Tim<tspan dx="1.6">e (h)</tspan></text>
<line x1="64.33" y1="722.77" x2="64.33" y2="718.42" stroke="#111" stroke-width="1.5" />
<line x1="60.83" y1="718.42" x2="67.83" y2="718.42" stroke="#111" stroke-width="1.5" />
<line x1="65.57" y1="703" x2="65.57" y2="683.24" stroke="#111" stroke-width="1.5" />
<line x1="62.07" y1="683.24" x2="69.07" y2="683.24" stroke="#111" stroke-width="1.5" />
<line x1="66.81" y1="650.82" x2="66.81" y2="601.01" stroke="#111" stroke-width="1.5" />
<line x1="63.31" y1="601.01" x2="70.31" y2="601.01" stroke="#111" stroke-width="1.5" />
<line x1="69.3" y1="589.15" x2="69.3" y2="510.09" stroke="#111" stroke-width="1.5" />
<line x1="65.8" y1="510.09" x2="72.8" y2="510.09" stroke="#111" stroke-width="1.5" />
<line x1="73.03" y1="545.67" x2="73.03" y2="471.35" stroke="#111" stroke-width="1.5" />
<line x1="69.53" y1="471.35" x2="76.53" y2="471.35" stroke="#111" stroke-width="1.5" />
<line x1="78" y1="554.37" x2="78" y2="503.77" stroke="#111" stroke-width="1.5" />
<line x1="74.5" y1="503.77" x2="81.5" y2="503.77" stroke="#111" stroke-width="1.5" />
<line x1="87.94" y1="593.11" x2="87.94" y2="551.21" stroke="#111" stroke-width="1.5" />
<line x1="84.44" y1="551.21" x2="91.44" y2="551.21" stroke="#111" stroke-width="1.5" />
<line x1="102.84" y1="609.71" x2="102.84" y2="574.92" stroke="#111" stroke-width="1.5" />
<line x1="99.34" y1="574.92" x2="106.34" y2="574.92" stroke="#111" stroke-width="1.5" />
<line x1="122.72" y1="629.47" x2="122.72" y2="597.06" stroke="#111" stroke-width="1.5" />
<line x1="119.22" y1="597.06" x2="126.22" y2="597.06" stroke="#111" stroke-width="1.5" />
<line x1="152.54" y1="657.46" x2="152.54" y2="633.43" stroke="#111" stroke-width="1.5" />
<line x1="149.04" y1="633.43" x2="156.04" y2="633.43" stroke="#111" stroke-width="1.5" />
<line x1="182.37" y1="675.8" x2="182.37" y2="656.59" stroke="#111" stroke-width="1.5" />
<line x1="178.87" y1="656.59" x2="185.87" y2="656.59" stroke="#111" stroke-width="1.5" />
<line x1="242" y1="697.62" x2="242" y2="684.82" stroke="#111" stroke-width="1.5" />
<line x1="238.5" y1="684.82" x2="245.5" y2="684.82" stroke="#111" stroke-width="1.5" />
<line x1="301.64" y1="710.67" x2="301.64" y2="702.61" stroke="#111" stroke-width="1.5" />
<line x1="298.14" y1="702.61" x2="305.14" y2="702.61" stroke="#111" stroke-width="1.5" />
<line x1="361.29" y1="717.71" x2="361.29" y2="711.3" stroke="#111" stroke-width="1.5" />
<line x1="357.79" y1="711.3" x2="364.79" y2="711.3" stroke="#111" stroke-width="1.5" />
<line x1="420.93" y1="722.45" x2="420.93" y2="718.02" stroke="#111" stroke-width="1.5" />
<line x1="417.43" y1="718.02" x2="424.43" y2="718.02" stroke="#111" stroke-width="1.5" />
<polyline points="63.09,728.3 64.33,722.77 65.57,703 66.81,650.82 69.3,589.15 73.03,545.67 78,554.37 87.94,593.11 102.84,609.71 122.72,629.47 152.54,657.46 182.37,675.8 242,697.62 301.64,710.67 361.29,717.71 420.93,722.45" fill="none" stroke="#000" stroke-width="1.1"/>
<rect x="59.79" y="725" width="6.6" height="6.6" fill="#fff" stroke="#000" stroke-width="1.1"/>
<rect x="61.03" y="719.47" width="6.6" height="6.6" fill="#fff" stroke="#000" stroke-width="1.1"/>
<rect x="62.27" y="699.7" width="6.6" height="6.6" fill="#fff" stroke="#000" stroke-width="1.1"/>
<rect x="63.51" y="647.52" width="6.6" height="6.6" fill="#fff" stroke="#000" stroke-width="1.1"/>
<rect x="66" y="585.85" width="6.6" height="6.6" fill="#fff" stroke="#000" stroke-width="1.1"/>
<rect x="69.73" y="542.37" width="6.6" height="6.6" fill="#fff" stroke="#000" stroke-width="1.1"/>
<rect x="74.7" y="551.07" width="6.6" height="6.6" fill="#fff" stroke="#000" stroke-width="1.1"/>
<rect x="84.64" y="589.81" width="6.6" height="6.6" fill="#fff" stroke="#000" stroke-width="1.1"/>
<rect x="99.55" y="606.41" width="6.6" height="6.6" fill="#fff" stroke="#000" stroke-width="1.1"/>
<rect x="119.42" y="626.17" width="6.6" height="6.6" fill="#fff" stroke="#000" stroke-width="1.1"/>
<rect x="149.24" y="654.16" width="6.6" height="6.6" fill="#fff" stroke="#000" stroke-width="1.1"/>
<rect x="179.06" y="672.5" width="6.6" height="6.6" fill="#fff" stroke="#000" stroke-width="1.1"/>
<rect x="238.7" y="694.32" width="6.6" height="6.6" fill="#fff" stroke="#000" stroke-width="1.1"/>
<rect x="298.34" y="707.37" width="6.6" height="6.6" fill="#fff" stroke="#000" stroke-width="1.1"/>
<rect x="357.99" y="714.41" width="6.6" height="6.6" fill="#fff" stroke="#000" stroke-width="1.1"/>
<rect x="417.62" y="719.15" width="6.6" height="6.6" fill="#fff" stroke="#000" stroke-width="1.1"/>
<line x1="60.6" y1="710.91" x2="60.6" y2="726.72" stroke="#111" stroke-width="1.5" />
<line x1="57.1" y1="726.72" x2="64.1" y2="726.72" stroke="#111" stroke-width="1.5" />
<line x1="61.84" y1="681.65" x2="61.84" y2="716.44" stroke="#111" stroke-width="1.5" />
<line x1="58.34" y1="716.44" x2="65.34" y2="716.44" stroke="#111" stroke-width="1.5" />
<line x1="64.33" y1="624.73" x2="64.33" y2="696.68" stroke="#111" stroke-width="1.5" />
<line x1="60.83" y1="696.68" x2="67.83" y2="696.68" stroke="#111" stroke-width="1.5" />
<line x1="68.06" y1="583.62" x2="68.06" y2="665.05" stroke="#111" stroke-width="1.5" />
<line x1="64.56" y1="665.05" x2="71.56" y2="665.05" stroke="#111" stroke-width="1.5" />
<line x1="73.03" y1="597.85" x2="73.03" y2="653.19" stroke="#111" stroke-width="1.5" />
<line x1="69.53" y1="653.19" x2="76.53" y2="653.19" stroke="#111" stroke-width="1.5" />
<line x1="82.97" y1="601.49" x2="82.97" y2="654.3" stroke="#111" stroke-width="1.5" />
<line x1="79.47" y1="654.3" x2="86.47" y2="654.3" stroke="#111" stroke-width="1.5" />
<line x1="97.88" y1="614.06" x2="97.88" y2="646.31" stroke="#111" stroke-width="1.5" />
<line x1="94.38" y1="646.31" x2="101.38" y2="646.31" stroke="#111" stroke-width="1.5" />
<line x1="117.75" y1="637.38" x2="117.75" y2="661.73" stroke="#111" stroke-width="1.5" />
<line x1="114.25" y1="661.73" x2="121.25" y2="661.73" stroke="#111" stroke-width="1.5" />
<line x1="147.57" y1="661.49" x2="147.57" y2="683.47" stroke="#111" stroke-width="1.5" />
<line x1="144.07" y1="683.47" x2="151.07" y2="683.47" stroke="#111" stroke-width="1.5" />
<line x1="177.39" y1="679.92" x2="177.39" y2="695.73" stroke="#111" stroke-width="1.5" />
<line x1="173.89" y1="695.73" x2="180.89" y2="695.73" stroke="#111" stroke-width="1.5" />
<line x1="237.03" y1="698.26" x2="237.03" y2="711.54" stroke="#111" stroke-width="1.5" />
<line x1="233.53" y1="711.54" x2="240.53" y2="711.54" stroke="#111" stroke-width="1.5" />
<line x1="296.68" y1="710.91" x2="296.68" y2="721.34" stroke="#111" stroke-width="1.5" />
<line x1="293.18" y1="721.34" x2="300.18" y2="721.34" stroke="#111" stroke-width="1.5" />
<line x1="356.31" y1="717.86" x2="356.31" y2="723.87" stroke="#111" stroke-width="1.5" />
<line x1="352.81" y1="723.87" x2="359.81" y2="723.87" stroke="#111" stroke-width="1.5" />
<line x1="415.95" y1="721.98" x2="415.95" y2="726.64" stroke="#111" stroke-width="1.5" />
<line x1="412.45" y1="726.64" x2="419.45" y2="726.64" stroke="#111" stroke-width="1.5" />
<polyline points="60.6,710.91 61.84,681.65 64.33,624.73 68.06,583.62 73.03,597.85 82.97,601.49 97.88,614.06 117.75,637.38 147.57,661.49 177.39,679.92 237.03,698.26 296.68,710.91 356.31,717.86 415.95,721.98" fill="none" stroke="#333" stroke-width="1.1" stroke-dasharray="1.4,1.9"/>
<circle cx="60.6" cy="710.91" r="3.4" fill="#000"/>
<circle cx="61.84" cy="681.65" r="3.4" fill="#000"/>
<circle cx="64.33" cy="624.73" r="3.4" fill="#000"/>
<circle cx="68.06" cy="583.62" r="3.4" fill="#000"/>
<circle cx="73.03" cy="597.85" r="3.4" fill="#000"/>
<circle cx="82.97" cy="601.49" r="3.4" fill="#000"/>
<circle cx="97.88" cy="614.06" r="3.4" fill="#000"/>
<circle cx="117.75" cy="637.38" r="3.4" fill="#000"/>
<circle cx="147.57" cy="661.49" r="3.4" fill="#000"/>
<circle cx="177.39" cy="679.92" r="3.4" fill="#000"/>
<circle cx="237.03" cy="698.26" r="3.4" fill="#000"/>
<circle cx="296.68" cy="710.91" r="3.4" fill="#000"/>
<circle cx="356.31" cy="717.86" r="3.4" fill="#000"/>
<circle cx="415.95" cy="721.98" r="3.4" fill="#000"/>
<line x1="522.5" y1="451.4" x2="522.5" y2="734.1" stroke="#1a1a1a" stroke-width="1.2" />
<line x1="517.2" y1="729.3" x2="705.7" y2="729.3" stroke="#1a1a1a" stroke-width="1.4" />
<line x1="517.2" y1="729.3" x2="522.5" y2="729.3" stroke="#1a1a1a" stroke-width="1.3" />
<text x="515.6" y="734.1" font-size="10" text-anchor="end" font-weight="bold" letter-spacing="2.1" fill="#000" >0</text>
<line x1="517.2" y1="689.6" x2="522.5" y2="689.6" stroke="#1a1a1a" stroke-width="1.3" />
<text x="515.6" y="694.4" font-size="10" text-anchor="end" font-weight="bold" letter-spacing="2.1" fill="#000" >50</text>
<line x1="517.2" y1="649.9" x2="522.5" y2="649.9" stroke="#1a1a1a" stroke-width="1.3" />
<text x="515.6" y="654.7" font-size="10" text-anchor="end" font-weight="bold" letter-spacing="2.1" fill="#000" >100</text>
<line x1="517.2" y1="610.2" x2="522.5" y2="610.2" stroke="#1a1a1a" stroke-width="1.3" />
<text x="515.6" y="615" font-size="10" text-anchor="end" font-weight="bold" letter-spacing="2.1" fill="#000" >150</text>
<line x1="517.2" y1="570.5" x2="522.5" y2="570.5" stroke="#1a1a1a" stroke-width="1.3" />
<text x="515.6" y="575.3" font-size="10" text-anchor="end" font-weight="bold" letter-spacing="2.1" fill="#000" >200</text>
<line x1="517.2" y1="530.8" x2="522.5" y2="530.8" stroke="#1a1a1a" stroke-width="1.3" />
<text x="515.6" y="535.6" font-size="10" text-anchor="end" font-weight="bold" letter-spacing="2.1" fill="#000" >250</text>
<line x1="517.2" y1="491.1" x2="522.5" y2="491.1" stroke="#1a1a1a" stroke-width="1.3" />
<text x="515.6" y="495.9" font-size="10" text-anchor="end" font-weight="bold" letter-spacing="2.1" fill="#000" >300</text>
<line x1="517.2" y1="451.4" x2="522.5" y2="451.4" stroke="#1a1a1a" stroke-width="1.3" />
<text x="515.6" y="456.2" font-size="10" text-anchor="end" font-weight="bold" letter-spacing="2.1" fill="#000" >350</text>
<line x1="519.5" y1="709.45" x2="522.5" y2="709.45" stroke="#1a1a1a" stroke-width="1.2" />
<line x1="519.5" y1="669.75" x2="522.5" y2="669.75" stroke="#1a1a1a" stroke-width="1.2" />
<line x1="519.5" y1="630.05" x2="522.5" y2="630.05" stroke="#1a1a1a" stroke-width="1.2" />
<line x1="519.5" y1="590.35" x2="522.5" y2="590.35" stroke="#1a1a1a" stroke-width="1.2" />
<line x1="519.5" y1="550.65" x2="522.5" y2="550.65" stroke="#1a1a1a" stroke-width="1.2" />
<line x1="519.5" y1="510.95" x2="522.5" y2="510.95" stroke="#1a1a1a" stroke-width="1.2" />
<line x1="519.5" y1="471.25" x2="522.5" y2="471.25" stroke="#1a1a1a" stroke-width="1.2" />
<line x1="522.5" y1="729.3" x2="522.5" y2="734.1" stroke="#1a1a1a" stroke-width="1.3" />
<text x="522.5" y="750.3" font-size="10" text-anchor="middle" font-weight="bold" letter-spacing="2.1" fill="#000" >0</text>
<line x1="568.3" y1="729.3" x2="568.3" y2="734.1" stroke="#1a1a1a" stroke-width="1.3" />
<text x="568.3" y="750.3" font-size="10" text-anchor="middle" font-weight="bold" letter-spacing="2.1" fill="#000" >2</text>
<line x1="614.1" y1="729.3" x2="614.1" y2="734.1" stroke="#1a1a1a" stroke-width="1.3" />
<text x="614.1" y="750.3" font-size="10" text-anchor="middle" font-weight="bold" letter-spacing="2.1" fill="#000" >4</text>
<line x1="659.9" y1="729.3" x2="659.9" y2="734.1" stroke="#1a1a1a" stroke-width="1.3" />
<text x="659.9" y="750.3" font-size="10" text-anchor="middle" font-weight="bold" letter-spacing="2.1" fill="#000" >6</text>
<line x1="705.7" y1="729.3" x2="705.7" y2="734.1" stroke="#1a1a1a" stroke-width="1.3" />
<text x="705.7" y="750.3" font-size="10" text-anchor="middle" font-weight="bold" letter-spacing="2.1" fill="#000" >8</text>
<line x1="545.4" y1="729.3" x2="545.4" y2="732.3" stroke="#1a1a1a" stroke-width="1.2" />
<line x1="591.2" y1="729.3" x2="591.2" y2="732.3" stroke="#1a1a1a" stroke-width="1.2" />
<line x1="637" y1="729.3" x2="637" y2="732.3" stroke="#1a1a1a" stroke-width="1.2" />
<line x1="682.8" y1="729.3" x2="682.8" y2="732.3" stroke="#1a1a1a" stroke-width="1.2" />
<text transform="translate(475.3,590) rotate(-90)" x="0" y="0" font-size="11.5" text-anchor="middle" font-weight="bold" letter-spacing="1.86" fill="#000">Concentration of ponesim<tspan dx="0.3">od (ng/m</tspan><tspan dx="0.3">L)</tspan></text>
<text x="615" y="767.9" font-size="11.3" text-anchor="middle" font-weight="bold" letter-spacing="1.65" fill="#000" >Tim<tspan dx="1.6">e (h)</tspan></text>
<line x1="556.85" y1="723.74" x2="556.85" y2="719.38" stroke="#111" stroke-width="1.5" />
<line x1="553.35" y1="719.38" x2="560.35" y2="719.38" stroke="#111" stroke-width="1.5" />
<line x1="568.3" y1="703.89" x2="568.3" y2="684.04" stroke="#111" stroke-width="1.5" />
<line x1="564.8" y1="684.04" x2="571.8" y2="684.04" stroke="#111" stroke-width="1.5" />
<line x1="579.75" y1="651.49" x2="579.75" y2="601.47" stroke="#111" stroke-width="1.5" />
<line x1="576.25" y1="601.47" x2="583.25" y2="601.47" stroke="#111" stroke-width="1.5" />
<line x1="602.65" y1="589.56" x2="602.65" y2="510.16" stroke="#111" stroke-width="1.5" />
<line x1="599.15" y1="510.16" x2="606.15" y2="510.16" stroke="#111" stroke-width="1.5" />
<line x1="637" y1="545.89" x2="637" y2="471.25" stroke="#111" stroke-width="1.5" />
<line x1="633.5" y1="471.25" x2="640.5" y2="471.25" stroke="#111" stroke-width="1.5" />
<line x1="682.8" y1="554.62" x2="682.8" y2="503.8" stroke="#111" stroke-width="1.5" />
<line x1="679.3" y1="503.8" x2="686.3" y2="503.8" stroke="#111" stroke-width="1.5" />
<polyline points="545.4,729.3 556.85,723.74 568.3,703.89 579.75,651.49 602.65,589.56 637,545.89 682.8,554.62 705.7,564.35" fill="none" stroke="#000" stroke-width="1.1"/>
<rect x="542.1" y="726" width="6.6" height="6.6" fill="#fff" stroke="#000" stroke-width="1.1"/>
<rect x="553.55" y="720.44" width="6.6" height="6.6" fill="#fff" stroke="#000" stroke-width="1.1"/>
<rect x="565" y="700.59" width="6.6" height="6.6" fill="#fff" stroke="#000" stroke-width="1.1"/>
<rect x="576.45" y="648.19" width="6.6" height="6.6" fill="#fff" stroke="#000" stroke-width="1.1"/>
<rect x="599.35" y="586.26" width="6.6" height="6.6" fill="#fff" stroke="#000" stroke-width="1.1"/>
<rect x="633.7" y="542.59" width="6.6" height="6.6" fill="#fff" stroke="#000" stroke-width="1.1"/>
<rect x="679.5" y="551.32" width="6.6" height="6.6" fill="#fff" stroke="#000" stroke-width="1.1"/>
<line x1="522.5" y1="711.83" x2="522.5" y2="727.71" stroke="#111" stroke-width="1.5" />
<line x1="519" y1="727.71" x2="526" y2="727.71" stroke="#111" stroke-width="1.5" />
<line x1="533.95" y1="682.45" x2="533.95" y2="717.39" stroke="#111" stroke-width="1.5" />
<line x1="530.45" y1="717.39" x2="537.45" y2="717.39" stroke="#111" stroke-width="1.5" />
<line x1="556.85" y1="625.29" x2="556.85" y2="697.54" stroke="#111" stroke-width="1.5" />
<line x1="553.35" y1="697.54" x2="560.35" y2="697.54" stroke="#111" stroke-width="1.5" />
<line x1="591.2" y1="584" x2="591.2" y2="665.78" stroke="#111" stroke-width="1.5" />
<line x1="587.7" y1="665.78" x2="594.7" y2="665.78" stroke="#111" stroke-width="1.5" />
<line x1="637" y1="598.29" x2="637" y2="653.87" stroke="#111" stroke-width="1.5" />
<line x1="633.5" y1="653.87" x2="640.5" y2="653.87" stroke="#111" stroke-width="1.5" />
<polyline points="522.5,711.83 533.95,682.45 556.85,625.29 591.2,584 637,598.29 705.7,601.03" fill="none" stroke="#333" stroke-width="1.1" stroke-dasharray="1.4,1.9"/>
<circle cx="522.5" cy="711.83" r="3.4" fill="#000"/>
<circle cx="533.95" cy="682.45" r="3.4" fill="#000"/>
<circle cx="556.85" cy="625.29" r="3.4" fill="#000"/>
<circle cx="591.2" cy="584" r="3.4" fill="#000"/>
<circle cx="637" cy="598.29" r="3.4" fill="#000"/>
<line x1="205.4" y1="454.4" x2="205.4" y2="596.8" stroke="#1a1a1a" stroke-width="1.2" />
<line x1="201.9" y1="593.3" x2="413.05" y2="593.3" stroke="#1a1a1a" stroke-width="1.2" />
<line x1="201.9" y1="593.3" x2="205.4" y2="593.3" stroke="#1a1a1a" stroke-width="1.1" />
<text x="199.6" y="595.7" font-size="8.4" text-anchor="end" font-weight="bold" letter-spacing="1.0" fill="#000" >1</text>
<line x1="201.9" y1="547.1" x2="205.4" y2="547.1" stroke="#1a1a1a" stroke-width="1.1" />
<text x="199.6" y="549.5" font-size="8.4" text-anchor="end" font-weight="bold" letter-spacing="1.0" fill="#000" >10</text>
<line x1="201.9" y1="500.9" x2="205.4" y2="500.9" stroke="#1a1a1a" stroke-width="1.1" />
<text x="199.6" y="503.3" font-size="8.4" text-anchor="end" font-weight="bold" letter-spacing="1.0" fill="#000" >100</text>
<line x1="201.9" y1="454.7" x2="205.4" y2="454.7" stroke="#1a1a1a" stroke-width="1.1" />
<text x="199.6" y="457.1" font-size="8.4" text-anchor="end" font-weight="bold" letter-spacing="1.0" fill="#000" >1000</text>
<line x1="203.4" y1="559.24" x2="205.4" y2="559.24" stroke="#1a1a1a" stroke-width="1.0" />
<line x1="203.4" y1="513.04" x2="205.4" y2="513.04" stroke="#1a1a1a" stroke-width="1.0" />
<line x1="203.4" y1="466.84" x2="205.4" y2="466.84" stroke="#1a1a1a" stroke-width="1.0" />
<line x1="205.4" y1="593.3" x2="205.4" y2="596.7" stroke="#1a1a1a" stroke-width="1.1" />
<text x="205.9" y="609.1" font-size="8.4" text-anchor="middle" font-weight="bold" letter-spacing="1.0" fill="#000" >0</text>
<line x1="240.01" y1="593.3" x2="240.01" y2="596.7" stroke="#1a1a1a" stroke-width="1.1" />
<text x="240.51" y="609.1" font-size="8.4" text-anchor="middle" font-weight="bold" letter-spacing="1.0" fill="#000" >24</text>
<line x1="274.62" y1="593.3" x2="274.62" y2="596.7" stroke="#1a1a1a" stroke-width="1.1" />
<text x="275.12" y="609.1" font-size="8.4" text-anchor="middle" font-weight="bold" letter-spacing="1.0" fill="#000" >48</text>
<line x1="309.22" y1="593.3" x2="309.22" y2="596.7" stroke="#1a1a1a" stroke-width="1.1" />
<text x="309.72" y="609.1" font-size="8.4" text-anchor="middle" font-weight="bold" letter-spacing="1.0" fill="#000" >72</text>
<line x1="343.83" y1="593.3" x2="343.83" y2="596.7" stroke="#1a1a1a" stroke-width="1.1" />
<text x="344.33" y="609.1" font-size="8.4" text-anchor="middle" font-weight="bold" letter-spacing="1.0" fill="#000" >96</text>
<line x1="378.44" y1="593.3" x2="378.44" y2="596.7" stroke="#1a1a1a" stroke-width="1.1" />
<text x="378.94" y="609.1" font-size="8.4" text-anchor="middle" font-weight="bold" letter-spacing="1.0" fill="#000" >120</text>
<line x1="413.05" y1="593.3" x2="413.05" y2="596.7" stroke="#1a1a1a" stroke-width="1.1" />
<text x="413.55" y="609.1" font-size="8.4" text-anchor="middle" font-weight="bold" letter-spacing="1.0" fill="#000" >144</text>
<line x1="222.7" y1="593.3" x2="222.7" y2="595.3" stroke="#1a1a1a" stroke-width="1.0" />
<line x1="257.31" y1="593.3" x2="257.31" y2="595.3" stroke="#1a1a1a" stroke-width="1.0" />
<line x1="291.92" y1="593.3" x2="291.92" y2="595.3" stroke="#1a1a1a" stroke-width="1.0" />
<line x1="326.53" y1="593.3" x2="326.53" y2="595.3" stroke="#1a1a1a" stroke-width="1.0" />
<line x1="361.14" y1="593.3" x2="361.14" y2="595.3" stroke="#1a1a1a" stroke-width="1.0" />
<line x1="395.74" y1="593.3" x2="395.74" y2="595.3" stroke="#1a1a1a" stroke-width="1.0" />
<line x1="207.56" y1="554.26" x2="207.56" y2="585.16" stroke="#000" stroke-width="1.2" />
<line x1="204.81" y1="585.16" x2="210.31" y2="585.16" stroke="#000" stroke-width="1.2" />
<line x1="208.28" y1="523.76" x2="208.28" y2="554.26" stroke="#000" stroke-width="1.2" />
<line x1="205.53" y1="554.26" x2="211.03" y2="554.26" stroke="#000" stroke-width="1.2" />
<line x1="209" y1="501.31" x2="209" y2="521.96" stroke="#000" stroke-width="1.2" />
<line x1="206.25" y1="521.96" x2="211.75" y2="521.96" stroke="#000" stroke-width="1.2" />
<line x1="210.45" y1="489.56" x2="210.45" y2="506.41" stroke="#000" stroke-width="1.2" />
<line x1="207.7" y1="506.41" x2="213.2" y2="506.41" stroke="#000" stroke-width="1.2" />
<line x1="212.61" y1="484.1" x2="212.61" y2="494.58" stroke="#000" stroke-width="1.2" />
<line x1="209.86" y1="494.58" x2="215.36" y2="494.58" stroke="#000" stroke-width="1.2" />
<line x1="215.49" y1="485.08" x2="215.49" y2="491.98" stroke="#000" stroke-width="1.2" />
<line x1="212.74" y1="491.98" x2="218.24" y2="491.98" stroke="#000" stroke-width="1.2" />
<line x1="221.26" y1="490.14" x2="221.26" y2="497.58" stroke="#000" stroke-width="1.2" />
<line x1="218.51" y1="497.58" x2="224.01" y2="497.58" stroke="#000" stroke-width="1.2" />
<line x1="229.91" y1="492.76" x2="229.91" y2="499.73" stroke="#000" stroke-width="1.2" />
<line x1="227.16" y1="499.73" x2="232.66" y2="499.73" stroke="#000" stroke-width="1.2" />
<line x1="241.45" y1="496.42" x2="241.45" y2="504.4" stroke="#000" stroke-width="1.2" />
<line x1="238.7" y1="504.4" x2="244.2" y2="504.4" stroke="#000" stroke-width="1.2" />
<line x1="258.75" y1="503.1" x2="258.75" y2="511.42" stroke="#000" stroke-width="1.2" />
<line x1="256" y1="511.42" x2="261.5" y2="511.42" stroke="#000" stroke-width="1.2" />
<line x1="276.06" y1="509.12" x2="276.06" y2="518.26" stroke="#000" stroke-width="1.2" />
<line x1="273.31" y1="518.26" x2="278.81" y2="518.26" stroke="#000" stroke-width="1.2" />
<line x1="310.67" y1="519.9" x2="310.67" y2="530.74" stroke="#000" stroke-width="1.2" />
<line x1="307.92" y1="530.74" x2="313.42" y2="530.74" stroke="#000" stroke-width="1.2" />
<line x1="345.27" y1="531.01" x2="345.27" y2="543.28" stroke="#000" stroke-width="1.2" />
<line x1="342.52" y1="543.28" x2="348.02" y2="543.28" stroke="#000" stroke-width="1.2" />
<line x1="379.88" y1="541.23" x2="379.88" y2="559.84" stroke="#000" stroke-width="1.2" />
<line x1="377.13" y1="559.84" x2="382.63" y2="559.84" stroke="#000" stroke-width="1.2" />
<line x1="414.49" y1="553.14" x2="414.49" y2="581.51" stroke="#000" stroke-width="1.2" />
<line x1="411.74" y1="581.51" x2="417.24" y2="581.51" stroke="#000" stroke-width="1.2" />
<polyline points="207.56,554.26 208.28,523.76 209,501.31 210.45,489.56 212.61,484.1 215.49,485.08 221.26,490.14 229.91,492.76 241.45,496.42 258.75,503.1 276.06,509.12 310.67,519.9 345.27,531.01 379.88,541.23 414.49,553.14" fill="none" stroke="#000" stroke-width="1.0"/>
<rect x="205.06" y="551.75" width="5.02" height="5.02" fill="#fff" stroke="#000" stroke-width="0.9"/>
<rect x="205.78" y="521.25" width="5.02" height="5.02" fill="#fff" stroke="#000" stroke-width="0.9"/>
<rect x="206.5" y="498.8" width="5.02" height="5.02" fill="#fff" stroke="#000" stroke-width="0.9"/>
<rect x="207.94" y="487.05" width="5.02" height="5.02" fill="#fff" stroke="#000" stroke-width="0.9"/>
<rect x="210.1" y="481.59" width="5.02" height="5.02" fill="#fff" stroke="#000" stroke-width="0.9"/>
<rect x="212.99" y="482.57" width="5.02" height="5.02" fill="#fff" stroke="#000" stroke-width="0.9"/>
<rect x="218.75" y="487.63" width="5.02" height="5.02" fill="#fff" stroke="#000" stroke-width="0.9"/>
<rect x="227.41" y="490.26" width="5.02" height="5.02" fill="#fff" stroke="#000" stroke-width="0.9"/>
<rect x="238.94" y="493.91" width="5.02" height="5.02" fill="#fff" stroke="#000" stroke-width="0.9"/>
<rect x="256.25" y="500.6" width="5.02" height="5.02" fill="#fff" stroke="#000" stroke-width="0.9"/>
<rect x="273.55" y="506.61" width="5.02" height="5.02" fill="#fff" stroke="#000" stroke-width="0.9"/>
<rect x="308.16" y="517.39" width="5.02" height="5.02" fill="#fff" stroke="#000" stroke-width="0.9"/>
<rect x="342.77" y="528.5" width="5.02" height="5.02" fill="#fff" stroke="#000" stroke-width="0.9"/>
<rect x="377.37" y="538.72" width="5.02" height="5.02" fill="#fff" stroke="#000" stroke-width="0.9"/>
<rect x="411.98" y="550.63" width="5.02" height="5.02" fill="#fff" stroke="#000" stroke-width="0.9"/>
<line x1="205.4" y1="531.28" x2="205.4" y2="518.31" stroke="#000" stroke-width="1.2" />
<line x1="202.65" y1="518.31" x2="208.15" y2="518.31" stroke="#000" stroke-width="1.2" />
<line x1="206.12" y1="511.49" x2="206.12" y2="500.31" stroke="#000" stroke-width="1.2" />
<line x1="203.37" y1="500.31" x2="208.87" y2="500.31" stroke="#000" stroke-width="1.2" />
<line x1="207.56" y1="495.48" x2="207.56" y2="484.9" stroke="#000" stroke-width="1.2" />
<line x1="204.81" y1="484.9" x2="210.31" y2="484.9" stroke="#000" stroke-width="1.2" />
<line x1="209.73" y1="488.77" x2="209.73" y2="479.82" stroke="#000" stroke-width="1.2" />
<line x1="206.98" y1="479.82" x2="212.48" y2="479.82" stroke="#000" stroke-width="1.2" />
<line x1="212.61" y1="490.85" x2="212.61" y2="483.76" stroke="#000" stroke-width="1.2" />
<line x1="209.86" y1="483.76" x2="215.36" y2="483.76" stroke="#000" stroke-width="1.2" />
<line x1="218.38" y1="491.42" x2="218.38" y2="484.43" stroke="#000" stroke-width="1.2" />
<line x1="215.63" y1="484.43" x2="221.13" y2="484.43" stroke="#000" stroke-width="1.2" />
<line x1="227.03" y1="493.51" x2="227.03" y2="488.52" stroke="#000" stroke-width="1.2" />
<line x1="224.28" y1="488.52" x2="229.78" y2="488.52" stroke="#000" stroke-width="1.2" />
<line x1="238.57" y1="498.1" x2="238.57" y2="493.33" stroke="#000" stroke-width="1.2" />
<line x1="235.82" y1="493.33" x2="241.32" y2="493.33" stroke="#000" stroke-width="1.2" />
<line x1="255.87" y1="504.28" x2="255.87" y2="498.57" stroke="#000" stroke-width="1.2" />
<line x1="253.12" y1="498.57" x2="258.62" y2="498.57" stroke="#000" stroke-width="1.2" />
<line x1="273.17" y1="510.75" x2="273.17" y2="505.08" stroke="#000" stroke-width="1.2" />
<line x1="270.42" y1="505.08" x2="275.92" y2="505.08" stroke="#000" stroke-width="1.2" />
<line x1="307.78" y1="520.31" x2="307.78" y2="512.97" stroke="#000" stroke-width="1.2" />
<line x1="305.03" y1="512.97" x2="310.53" y2="512.97" stroke="#000" stroke-width="1.2" />
<line x1="342.39" y1="531.28" x2="342.39" y2="521.85" stroke="#000" stroke-width="1.2" />
<line x1="339.64" y1="521.85" x2="345.14" y2="521.85" stroke="#000" stroke-width="1.2" />
<line x1="377" y1="541.53" x2="377" y2="532.41" stroke="#000" stroke-width="1.2" />
<line x1="374.25" y1="532.41" x2="379.75" y2="532.41" stroke="#000" stroke-width="1.2" />
<line x1="411.61" y1="551.58" x2="411.61" y2="540.49" stroke="#000" stroke-width="1.2" />
<line x1="408.86" y1="540.49" x2="414.36" y2="540.49" stroke="#000" stroke-width="1.2" />
<polyline points="205.4,531.28 206.12,511.49 207.56,495.48 209.73,488.77 212.61,490.85 218.38,491.42 227.03,493.51 238.57,498.1 255.87,504.28 273.17,510.75 307.78,520.31 342.39,531.28 377,541.53 411.61,551.58" fill="none" stroke="#666" stroke-width="0.9" stroke-dasharray="1,1.1"/>
<circle cx="205.4" cy="531.28" r="2.99" fill="#000"/>
<circle cx="206.12" cy="511.49" r="2.99" fill="#000"/>
<circle cx="207.56" cy="495.48" r="2.99" fill="#000"/>
<circle cx="209.73" cy="488.77" r="2.99" fill="#000"/>
<circle cx="212.61" cy="490.85" r="2.99" fill="#000"/>
<circle cx="218.38" cy="491.42" r="2.99" fill="#000"/>
<circle cx="227.03" cy="493.51" r="2.99" fill="#000"/>
<circle cx="238.57" cy="498.1" r="2.99" fill="#000"/>
<circle cx="255.87" cy="504.28" r="2.99" fill="#000"/>
<circle cx="273.17" cy="510.75" r="2.99" fill="#000"/>
<circle cx="307.78" cy="520.31" r="2.99" fill="#000"/>
<circle cx="342.39" cy="531.28" r="2.99" fill="#000"/>
<circle cx="377" cy="541.53" r="2.99" fill="#000"/>
<circle cx="411.61" cy="551.58" r="2.99" fill="#000"/>
<line x1="57.3" y1="785.6" x2="77.3" y2="785.6" stroke="#333" stroke-width="1.1" stroke-dasharray="1.4,1.9"/>
<circle cx="67.4" cy="785.6" r="3.6" fill="#000"/>
<line x1="57.3" y1="814.9" x2="77.3" y2="814.9" stroke="#000" stroke-width="1.2" />
<rect x="63.75" y="811.25" width="7.3" height="7.3" fill="#fff" stroke="#000" stroke-width="1.1"/>
<text x="88.4" y="791.1" font-size="10" text-anchor="start" font-weight="normal" letter-spacing="1.33" fill="#2a2a2a" >Ponesim<tspan dx="1.6">od (capsule, 40 m</tspan><tspan dx="1.6">g)</tspan></text>
<text x="88.4" y="820.1" font-size="10" text-anchor="start" font-weight="normal" letter-spacing="1.33" fill="#2a2a2a" >Ponesim<tspan dx="1.6">od (tablet, 40 m</tspan><tspan dx="1.6">g)</tspan></text>
</svg></body></html>
